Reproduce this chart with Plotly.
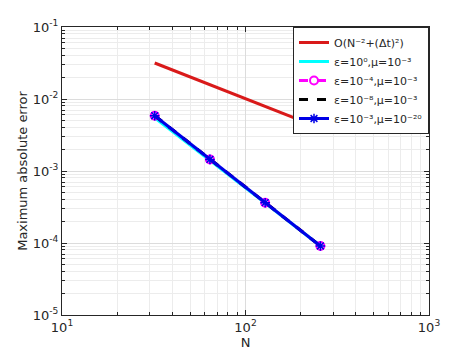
import plotly.graph_objects as go

N = [32, 64, 128, 256]
ref_order = [0.0316, 0.0158, 0.0079, 0.00395]
err_eps0 = [0.0055, 0.00142, 3.6e-4, 9.1e-5]
err_eps4 = [0.00586, 0.00145, 3.63e-4, 9.1e-5]
err_eps8 = [0.00586, 0.00145, 3.63e-4, 9.1e-5]
err_mu20 = [0.00586, 0.00145, 3.63e-4, 9.1e-5]

names = ["O(N⁻²+(Δt)²)",
         "ε=10⁰,μ=10⁻³",
         "ε=10⁻⁴,μ=10⁻³",
         "ε=10⁻⁸,μ=10⁻³",
         "ε=10⁻³,μ=10⁻²⁰"]

x_tickvals = [10, 100, 1000]
x_ticktext = ["10<sup>1</sup>", "10<sup>2</sup>", "10<sup>3</sup>"]
y_tickvals = [1e-5, 1e-4, 1e-3, 1e-2, 1e-1]
y_ticktext = ["10<sup>-5</sup>", "10<sup>-4</sup>", "10<sup>-3</sup>", "10<sup>-2</sup>", "10<sup>-1</sup>"]

fig = go.Figure()
fig.add_trace(go.Scatter(x=N, y=ref_order, mode="lines", name=names[0],
                         line=dict(color="#d91a1a", width=3)))
fig.add_trace(go.Scatter(x=N, y=err_eps0, mode="lines", name=names[1],
                         line=dict(color="#00ffff", width=3)))
fig.add_trace(go.Scatter(x=N, y=err_eps4, mode="lines+markers", name=names[2],
                         line=dict(color="#ff00ff", width=3, dash="dash"),
                         marker=dict(symbol="circle-open", size=8, color="#ff00ff", line=dict(width=2))))
fig.add_trace(go.Scatter(x=N, y=err_eps8, mode="lines", name=names[3],
                         line=dict(color="black", width=3, dash="dash")))
fig.add_trace(go.Scatter(x=N, y=err_mu20, mode="lines+markers", name=names[4],
                         line=dict(color="#0000e6", width=3),
                         marker=dict(symbol="asterisk-open", size=8, color="#0000e6", line=dict(width=1.5, color="#0000e6"))))

axis_common = dict(type="log", showline=True, linecolor="#262626", linewidth=1, mirror="ticks",
                   ticks="inside", ticklen=5, tickcolor="#262626",
                   showgrid=True, gridcolor="#dcdcdc", gridwidth=1,
                   tickfont=dict(family="DejaVu Sans", size=13, color="#262626"),
                   zeroline=False, automargin=False,
                   minor=dict(dtick="D1", showgrid=True, gridcolor="#ececec", ticks="inside",
                              ticklen=3, tickcolor="#262626"))

fig.update_xaxes(range=[1, 3], tickvals=x_tickvals, ticktext=x_ticktext,
                 title=dict(text="N", font=dict(family="DejaVu Sans", size=13, color="#262626"), standoff=2),
                 **axis_common)
fig.update_yaxes(range=[-5, -1], tickvals=y_tickvals, ticktext=y_ticktext,
                 title=dict(text="Maximum absolute error", font=dict(family="DejaVu Sans", size=13, color="#262626"), standoff=2),
                 **axis_common)

fig.update_layout(width=474, height=355, margin=dict(l=62, r=45, t=27, b=40),
                  plot_bgcolor="white", paper_bgcolor="white",
                  legend=dict(x=1, y=1, xanchor="right", yanchor="top",
                              bgcolor="white", bordercolor="#262626", borderwidth=1,
                              font=dict(family="DejaVu Sans", size=11, color="#262626"),
                              tracegroupgap=0, itemwidth=30),
                  )

fig.write_html("out.html", config={"displayModeBar": False},
               post_script="document.body.style.margin='0';document.body.style.overflow='hidden';")
